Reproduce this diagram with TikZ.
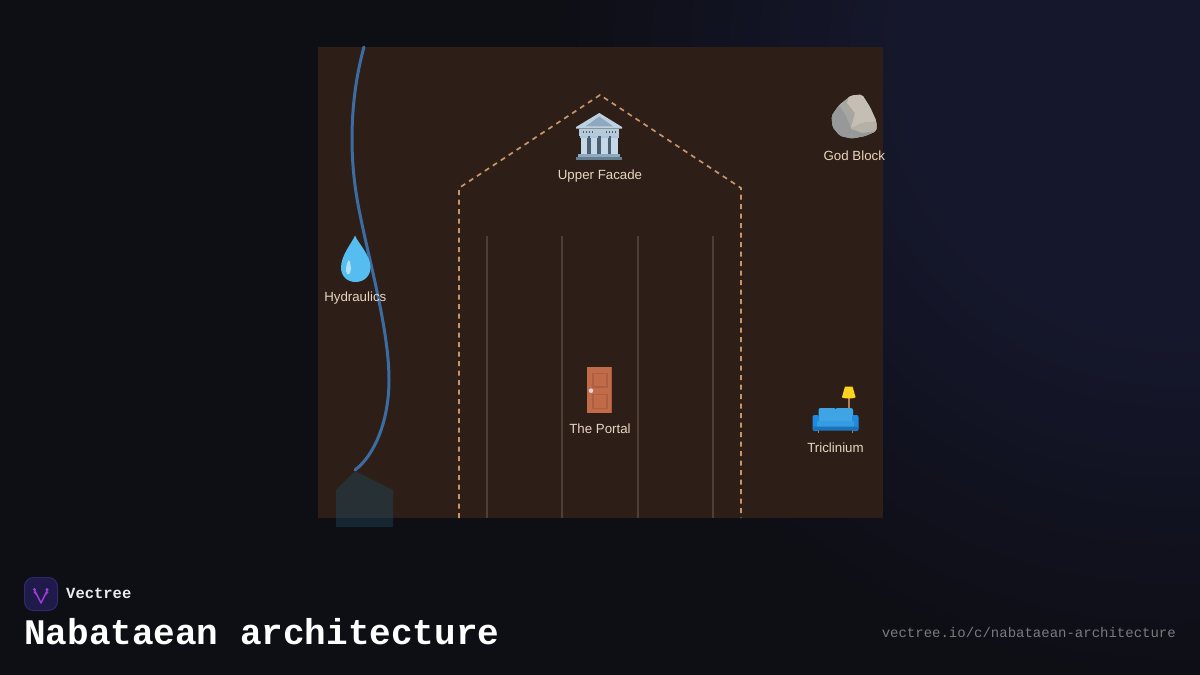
\documentclass[tikz,border=0pt]{standalone}
\usepackage{fontspec}
\setmainfont{Liberation Sans}
\setmonofont{Liberation Mono}
\definecolor{bgdark}{HTML}{0E0E15}
\definecolor{bgblue}{HTML}{15172C}
\definecolor{panelc}{HTML}{2D1F18}
\definecolor{dashc}{HTML}{C8956A}
\definecolor{colc}{HTML}{503E34}
\definecolor{waterc}{HTML}{3B6DA3}
\definecolor{labelc}{HTML}{E8D5C0}
\definecolor{tombc}{HTML}{1E4A5E}
\definecolor{tlight}{HTML}{C5D8E8}
\definecolor{tmid}{HTML}{8EA8BD}
\definecolor{tdark}{HTML}{4A6072}
\definecolor{rocka}{HTML}{A8A6A0}
\definecolor{rockb}{HTML}{C4BEB4}
\definecolor{rockc}{HTML}{96989A}
\definecolor{rockd}{HTML}{B5B1A8}
\definecolor{dropc}{HTML}{55BDF0}
\definecolor{doorc}{HTML}{C26B48}
\definecolor{doord}{HTML}{A85A3C}
\definecolor{doorp}{HTML}{AE5E42}
\definecolor{sofac}{HTML}{1F8AE0}
\definecolor{sofad}{HTML}{1B72BC}
\definecolor{sofal}{HTML}{3FA4E3}
\definecolor{lampc}{HTML}{FFD21F}
\definecolor{lampp}{HTML}{B07F5A}
\definecolor{logoc}{HTML}{1E1B4B}
\definecolor{logob}{HTML}{2E2A6B}
\definecolor{logop}{HTML}{A23BD6}
\definecolor{urlc}{HTML}{7A7A7E}
\pgfdeclareradialshading{bgglow}{\pgfpoint{0bp}{0bp}}{
  color(0bp)=(bgblue); color(11bp)=(bgblue); color(25bp)=(bgdark); color(50bp)=(bgdark)}
\tikzset{
  lbl/.style={font=\fontsize{13.3}{15}\selectfont, text=labelc, inner sep=0pt, anchor=base},
  facade/.style={draw=dashc, line width=1.7pt, dash pattern=on 5pt off 4.5pt},
  column/.style={draw=colc, line width=1.1pt},
  water/.style={draw=waterc, line width=3pt, line cap=round},
  mono/.style={inner sep=0pt, anchor=base west, font=\ttfamily\bfseries},
}
\begin{document}
\begin{tikzpicture}[x=1pt,y=-1pt]
\useasboundingbox (0,0) rectangle (1200,675);
\fill[bgdark] (0,0) rectangle (1200,675);
\begin{scope}
\clip (0,0) rectangle (1200,675);
\shade[shading=bgglow] (1175,60) circle (620pt);
\end{scope}
% panel
\fill[panelc] (318,47) rectangle (883,518);
% columns
\coordinate (c1t) at (487,236); \coordinate (c1b) at (487,518);
\coordinate (c2t) at (562,236); \coordinate (c2b) at (562,518);
\coordinate (c3t) at (638,236); \coordinate (c3b) at (638,518);
\coordinate (c4t) at (713,236); \coordinate (c4b) at (713,518);
\draw[column] (c1t)--(c1b);
\draw[column] (c2t)--(c2b);
\draw[column] (c3t)--(c3b);
\draw[column] (c4t)--(c4b);
% facade
\coordinate (fa) at (459,518); \coordinate (fb) at (459,188); \coordinate (fc) at (600,95);
\coordinate (fd) at (741,188); \coordinate (fe) at (741,518);
\draw[facade] (fa)--(fb)--(fc)--(fd)--(fe);
% tomb house
\fill[tombc,fill opacity=.4] (355,471)--(393,490)--(393,527)--(336,527)--(336,490)--cycle;
% water channel
\coordinate (ws) at (364,47); \coordinate (we) at (355,470);
\draw[water] (ws) .. controls (352,90) and (349,140) .. (355,185) .. controls (361,235) and (389,320) .. (389,380) .. controls (389,420) and (375,455) .. (we);

% temple emoji
\fill[tlight!85!tmid] (599.3,113) -- (622,127) -- (622,128.5) -- (576,128.5) -- (576,127) -- cycle;
\fill[tmid] (599.3,116.5) -- (613,126.3) -- (585.5,126.3) -- cycle;
\fill[tlight!70!tmid] (579,128.5) rectangle (619,135.5);
\fill[tdark] (584,154) rectangle (615,135.5);
\foreach \cx in {580.7,590.7,601.3,611.3}{
  \fill[tlight] (\cx,135.5) rectangle (\cx+6.6,153.5);
  \fill[tlight!60!tmid] (\cx-.8,135.5) rectangle (\cx+7.4,137.5);
}
\foreach \dx in {583,586,589,592,606,609,612,615}{
  \fill[tdark] (\dx,130.5) rectangle (\dx+1.4,132.5);
}
\fill[tmid] (578,153.5) rectangle (620,156.5);
\fill[tdark!60!tmid] (576,156.5) rectangle (622.3,160);

% rock emoji
\begin{scope}
\clip[rounded corners=2pt] (851,95.5) -- (862,94.5) -- (870,107) -- (876.5,121.5) -- (876.5,131) -- (865,136) -- (851.7,138.5) -- (840,136) -- (832.5,127) -- (831.5,116) -- (839,105) -- cycle;
\fill[rocka] (825,90) rectangle (880,145);
\fill[rockb] (850,92) -- (865,92) -- (880,121) -- (862,123) -- (851,128) -- (855,113) -- (847,103) -- cycle;
\fill[rockc] (825,112) -- (840,106.5) -- (846,116) -- (851,128) -- (851.7,142) -- (825,142) -- cycle;
\fill[rockd] (851,128) -- (862,123) -- (880,121) -- (880,142) -- (851.7,142) -- cycle;
\fill[rockc] (851,129) -- (862,133) -- (877,131) -- (877,142) -- (851.7,142) -- cycle;
\end{scope}

% drop emoji
\fill[dropc] (355,235.5) .. controls (358,243) and (370.5,255) .. (370.5,267.5) .. controls (370.5,276) and (364,282) .. (355.5,282) .. controls (347,282) and (341,276) .. (341,267.5) .. controls (341,255) and (352,243) .. (355,235.5) -- cycle;
\fill[white,fill opacity=.55] (349,260) .. controls (346,263) and (345,271) .. (347,274) .. controls (350,276) and (351.5,270) .. (350.7,266) .. controls (350.3,263) and (350,261) .. (349,260) -- cycle;

% door emoji
\fill[doorc] (586.7,367.3) rectangle (612.3,413.3);
\fill[doord] (610.5,367.3) rectangle (612.3,413.3);
\fill[doorp] (592,372.5) rectangle (607.5,387.5);
\fill[doorc] (593.5,374) rectangle (606.3,386.3);
\fill[doorp] (592,393.5) rectangle (607.5,409);
\fill[doorc] (593.5,395) rectangle (606.3,407.8);
\fill[black!15] (591,390.7) circle (2.3);

% sofa emoji
\fill[lampp] (848.2,397) rectangle (850,409);
\fill[lampc] (845,386.5) -- (852.5,386.5) -- (855.5,397) .. controls (855.5,399) and (842,399) .. (842,397) -- cycle;
\fill[lampp] (817.5,430) rectangle (819,433);
\fill[lampp] (851.5,430) rectangle (853,433);
\fill[sofal,rounded corners=2pt] (818.5,423) -- (818.5,408) -- (836,408) -- (836,423) -- cycle;
\fill[sofal,rounded corners=2pt] (835.5,423) -- (835.5,408) -- (853,408) -- (853,423) -- cycle;
\fill[sofac,rounded corners=2pt] (812.5,415) rectangle (819,431);
\fill[sofac,rounded corners=2pt] (852,415) rectangle (858.5,431);
\fill[sofal!70!sofac,rounded corners=1pt] (817,421) rectangle (854,427);
\fill[sofad,rounded corners=1pt] (813,426.5) rectangle (858,430.5);

% labels
\node[lbl] (upper) at (600,179) {Upper Facade};
\node[lbl] (god) at (854.3,160) {God Block};
\node[lbl] (hyd) at (355.3,301) {Hydraulics};
\node[lbl] (portal) at (600,433) {The Portal};
\node[lbl] (tric) at (835.5,452) {Triclinium};

% logo
\fill[logoc, draw=logob, line width=1pt, rounded corners=9pt] (24.5,577.5) rectangle (57.5,610.5);
\draw[logop, line width=1.5pt, line cap=round, line join=round] (34.5,590) -- (41,603) -- (47.5,590);
\draw[logop, line width=1.2pt, line cap=round] (37,595) -- (34,592);
\draw[logop, line width=1.2pt, line cap=round] (45,595) -- (48,592);
\fill[logop] (34.5,589.5) circle (1.7);
\fill[logop] (47,589.5) circle (1.7);

% footer text
\node[mono, text=white!92!black, font=\fontsize{15.5}{18}\selectfont\ttfamily\bfseries] (brand) at (66,598.5) {Vectree};
\node[mono, text=white, font=\fontsize{36}{40}\selectfont\ttfamily\bfseries] (title) at (24,644) {Nabataean architecture};
\node[inner sep=0pt, anchor=base east, text=urlc, font=\fontsize{14}{16}\selectfont\ttfamily] (url) at (1176,637) {vectree.io/c/nabataean-architecture};
\end{tikzpicture}
\end{document}
